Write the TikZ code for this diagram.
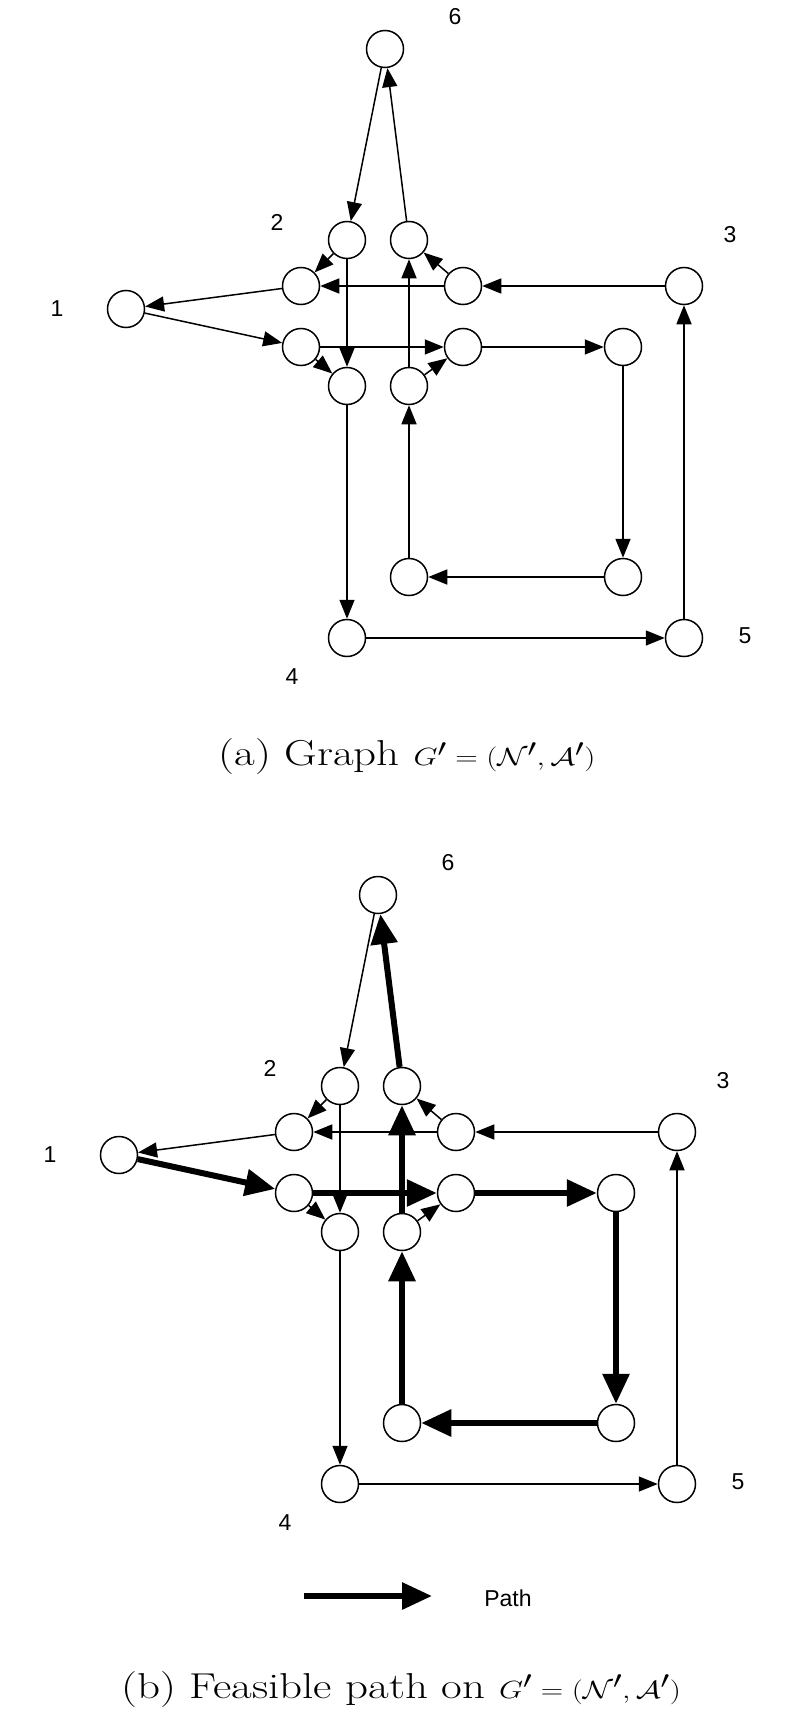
\documentclass[tikz,border=0pt]{standalone}
\usepackage{fontspec}
\newfontfamily\labelfont{Liberation Sans}
\usetikzlibrary{arrows.meta}
\tikzset{
	vertex/.style={draw,circle,line width=1.5pt,minimum size=37pt,inner sep=0pt},
	arc/.style={line width=1.5pt,-{Triangle[length=19pt,width=15pt]}},
	patharc/.style={line width=6pt,-{Triangle[length=30pt,width=26pt]}},
	num/.style={font=\labelfont\fontsize{23}{23}\selectfont},
	capt/.style={font=\fontsize{36}{36}\selectfont,xscale=1.25}
}
% node set of the graph, #1 is the name prefix
\newcommand{\graphnodes}[1]{
	\node[vertex] (#1six) at (385,49) {};
	\node[vertex] (#1one) at (126,309) {};
	\node[vertex] (#1ua) at (347,240) {};
	\node[vertex] (#1ub) at (301,286) {};
	\node[vertex] (#1va) at (409,240) {};
	\node[vertex] (#1vb) at (463,286) {};
	\node[vertex] (#1three) at (684,286) {};
	\node[vertex] (#1wa) at (301,347) {};
	\node[vertex] (#1wb) at (347,386) {};
	\node[vertex] (#1xa) at (463,347) {};
	\node[vertex] (#1xb) at (409,386) {};
	\node[vertex] (#1ka) at (623,347) {};
	\node[vertex] (#1kb) at (623,577) {};
	\node[vertex] (#1lb) at (409,577) {};
	\node[vertex] (#1four) at (347,638) {};
	\node[vertex] (#1five) at (684,638) {};
	\node[num] (#1l6) at (455,17) {6};
	\node[num] (#1l2) at (277,222) {2};
	\node[num] (#1l3) at (730,235) {3};
	\node[num] (#1l1) at (57,309) {1};
	\node[num] (#1l5) at (745,636) {5};
	\node[num] (#1l4) at (292,677) {4};
	\draw[arc] (#1six) -- (#1ua);
	\draw[arc] (#1ua) -- (#1ub);
	\draw[arc] (#1ua) -- (#1wb);
	\draw[arc] (#1vb) -- (#1va);
	\draw[arc] (#1vb) -- (#1ub);
	\draw[arc] (#1three) -- (#1vb);
	\draw[arc] (#1ub) -- (#1one);
	\draw[arc] (#1wa) -- (#1wb);
	\draw[arc] (#1xb) -- (#1xa);
	\draw[arc] (#1wb) -- (#1four);
	\draw[arc] (#1four) -- (#1five);
	\draw[arc] (#1five) -- (#1three);
}
\begin{document}
\begin{tikzpicture}[x=1pt,y=-1pt]
	\useasboundingbox (0,0) rectangle (788,1728);

	% (a) the graph
	\begin{scope}
		\graphnodes{a}
		\draw[arc] (aone) -- (awa);
		\draw[arc] (awa) -- (axa);
		\draw[arc] (axa) -- (aka);
		\draw[arc] (aka) -- (akb);
		\draw[arc] (akb) -- (alb);
		\draw[arc] (alb) -- (axb);
		\draw[arc] (axb) -- (ava);
		\draw[arc] (ava) -- (asix);
	\end{scope}
	\node[capt] (capa) at (407,757) {(a) Graph $G'=(\mathcal{N}',\mathcal{A}')$};

	% (b) the path on it
	\begin{scope}[shift={(-7,846)}]
		\graphnodes{b}
		\draw[patharc] (bone) -- (bwa);
		\draw[patharc] (bwa) -- (bxa);
		\draw[patharc] (bxa) -- (bka);
		\draw[patharc] (bka) -- (bkb);
		\draw[patharc] (bkb) -- (blb);
		\draw[patharc] (blb) -- (bxb);
		\draw[patharc] (bxb) -- (bva);
		\draw[patharc] (bva) -- (bsix);
	\end{scope}
	\coordinate (keyfrom) at (304,1596);
	\coordinate (keyto) at (432,1596);
	\draw[patharc] (keyfrom) -- (keyto);
	\node[num] (keytext) at (508,1598) {Path};
	\node[capt] (capb) at (401,1689) {(b) Feasible path on $G'=(\mathcal{N}',\mathcal{A}')$};
\end{tikzpicture}
\end{document}
